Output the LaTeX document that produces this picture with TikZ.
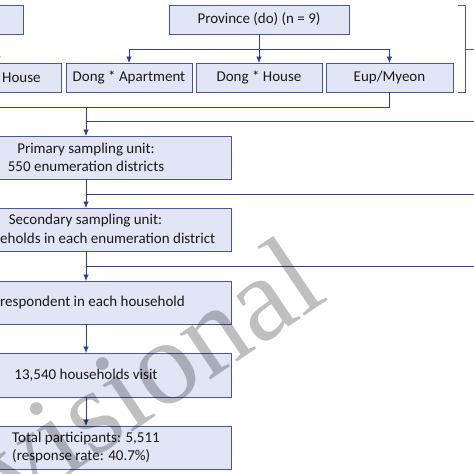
\documentclass[tikz,border=0pt]{standalone}
\usepackage{fontspec}
\setmainfont{Carlito}
\newfontfamily\wmfont{Liberation Serif}
\usetikzlibrary{arrows.meta}
\definecolor{boxfill}{RGB}{225,229,246}
\definecolor{boxline}{RGB}{72,84,165}
\definecolor{linecol}{RGB}{50,62,155}
\definecolor{txt}{RGB}{25,25,25}
\begin{document}
\begin{tikzpicture}[x=1pt,y=-1pt,
  box/.style={draw=boxline,fill=boxfill,line width=0.9pt,inner sep=0pt,outer sep=0pt,text=txt,
    font=\fontsize{15}{17.5}\selectfont},
  lbl/.style={inner sep=0pt,text=txt,font=\fontsize{15}{17.5}\selectfont},
  conn/.style={draw=linecol,line width=0.8pt},
  arr/.style={conn,-{Latex[length=6.5pt,width=5.5pt]}},
  wm/.style={inner sep=0pt,text=black,text opacity=0.25,font=\fontsize{120}{120}\wmfont},
]
\useasboundingbox (0,0) rectangle (474,474);
\clip (0,0) rectangle (474,474);
\fill[white] (0,0) rectangle (474,474);

% top row
\node[box,minimum width=180pt,minimum height=29pt] (tl) at (-67,19.5) {};
\node[box,minimum width=180pt,minimum height=29pt] (prov) at (259,19.5) {Province (do) (n = 9)};
% second row
\node[box,minimum width=126pt,minimum height=29pt] (hs) at (-2,77.5) {};
\node[lbl,anchor=west] (hst) at (2,77.5) {House};
\node[box,minimum width=126pt,minimum height=29pt] (dapt) at (129,77.5) {Dong * Apartment};
\node[box,minimum width=126pt,minimum height=29pt] (dhs) at (259,77.5) {Dong * House};
\node[box,minimum width=127pt,minimum height=29pt] (eup) at (389.5,77.5) {Eup/Myeon};

% column
\node[box,minimum width=290pt,minimum height=43pt,align=center] (prim) at (86,157.5) {Primary sampling unit:\\550 enumeration districts};
\node[box,minimum width=290pt,minimum height=43pt] (sec) at (86,229.5) {};
\node[lbl] (sec1) at (85.5,221) {Secondary sampling unit:};
\node[lbl,anchor=west] (sec2) at (0,238) {eholds in each enumeration district};
\node[box,minimum width=290pt,minimum height=43pt] (resp) at (86,302.5) {};
\node[lbl,anchor=west] (respt) at (0,302.5) {respondent in each household};
\node[box,minimum width=290pt,minimum height=44pt] (visit) at (86,375) {13,540 households visit};
\node[box,minimum width=290pt,minimum height=43pt,align=left] (total) at (86,447.5) {Total participants: 5,511\\(response rate: 40.7\%)};

% province branches
\coordinate (jA) at (129,49);
\coordinate (jB) at (259,49);
\coordinate (jC) at (389.5,49);
\draw[conn] (prov.south) -- (jB);
\draw[conn] (jA) -- (jC);
\draw[arr] (jA) -- (dapt.north);
\draw[arr] (jB) -- (dhs.north);
\draw[arr] (jC) -- (eup.north);
% left tree remnant
\coordinate (jL) at (-2,49);
\coordinate (jLL) at (-200,49);
\draw[conn] (jLL) -- (jL);
\draw[arr] (jL) -- (hs.north);

% collector below row 2
\coordinate (b1) at (389.5,107);
\coordinate (b0) at (-200,107);
\draw[conn] (eup.south) -- (b1) -- (b0);
\coordinate (m1) at (86,107);
\draw[arr] (m1) -- (prim.north);
\coordinate (m1r) at (86,121.5);
\coordinate (e1) at (480,121.5);
\draw[conn] (m1r) -- (e1);

% column arrows and side branches
\draw[arr] (prim.south) -- (sec.north);
\coordinate (m2) at (86,194);
\coordinate (e2) at (480,194);
\draw[conn] (m2) -- (e2);
\draw[arr] (sec.south) -- (resp.north);
\coordinate (m3) at (86,266);
\coordinate (e3) at (480,266);
\draw[conn] (m3) -- (e3);
\draw[arr] (resp.south) -- (visit.north);
\draw[arr] (visit.south) -- (total.north);

% right bracket
\coordinate (r1) at (458,5);
\coordinate (r2) at (465,5);
\coordinate (r3) at (465,92);
\coordinate (r4) at (458,92);
\coordinate (r5) at (465,49);
\coordinate (r6) at (480,49);
\draw[conn,draw=boxline] (r1) -- (r2) -- (r3) -- (r4);
\draw[conn,draw=boxline] (r5) -- (r6);

% watermark
\node[wm,rotate=34,anchor=base east] (wm1) at (330,299) {Provisional};
\end{tikzpicture}
\end{document}
